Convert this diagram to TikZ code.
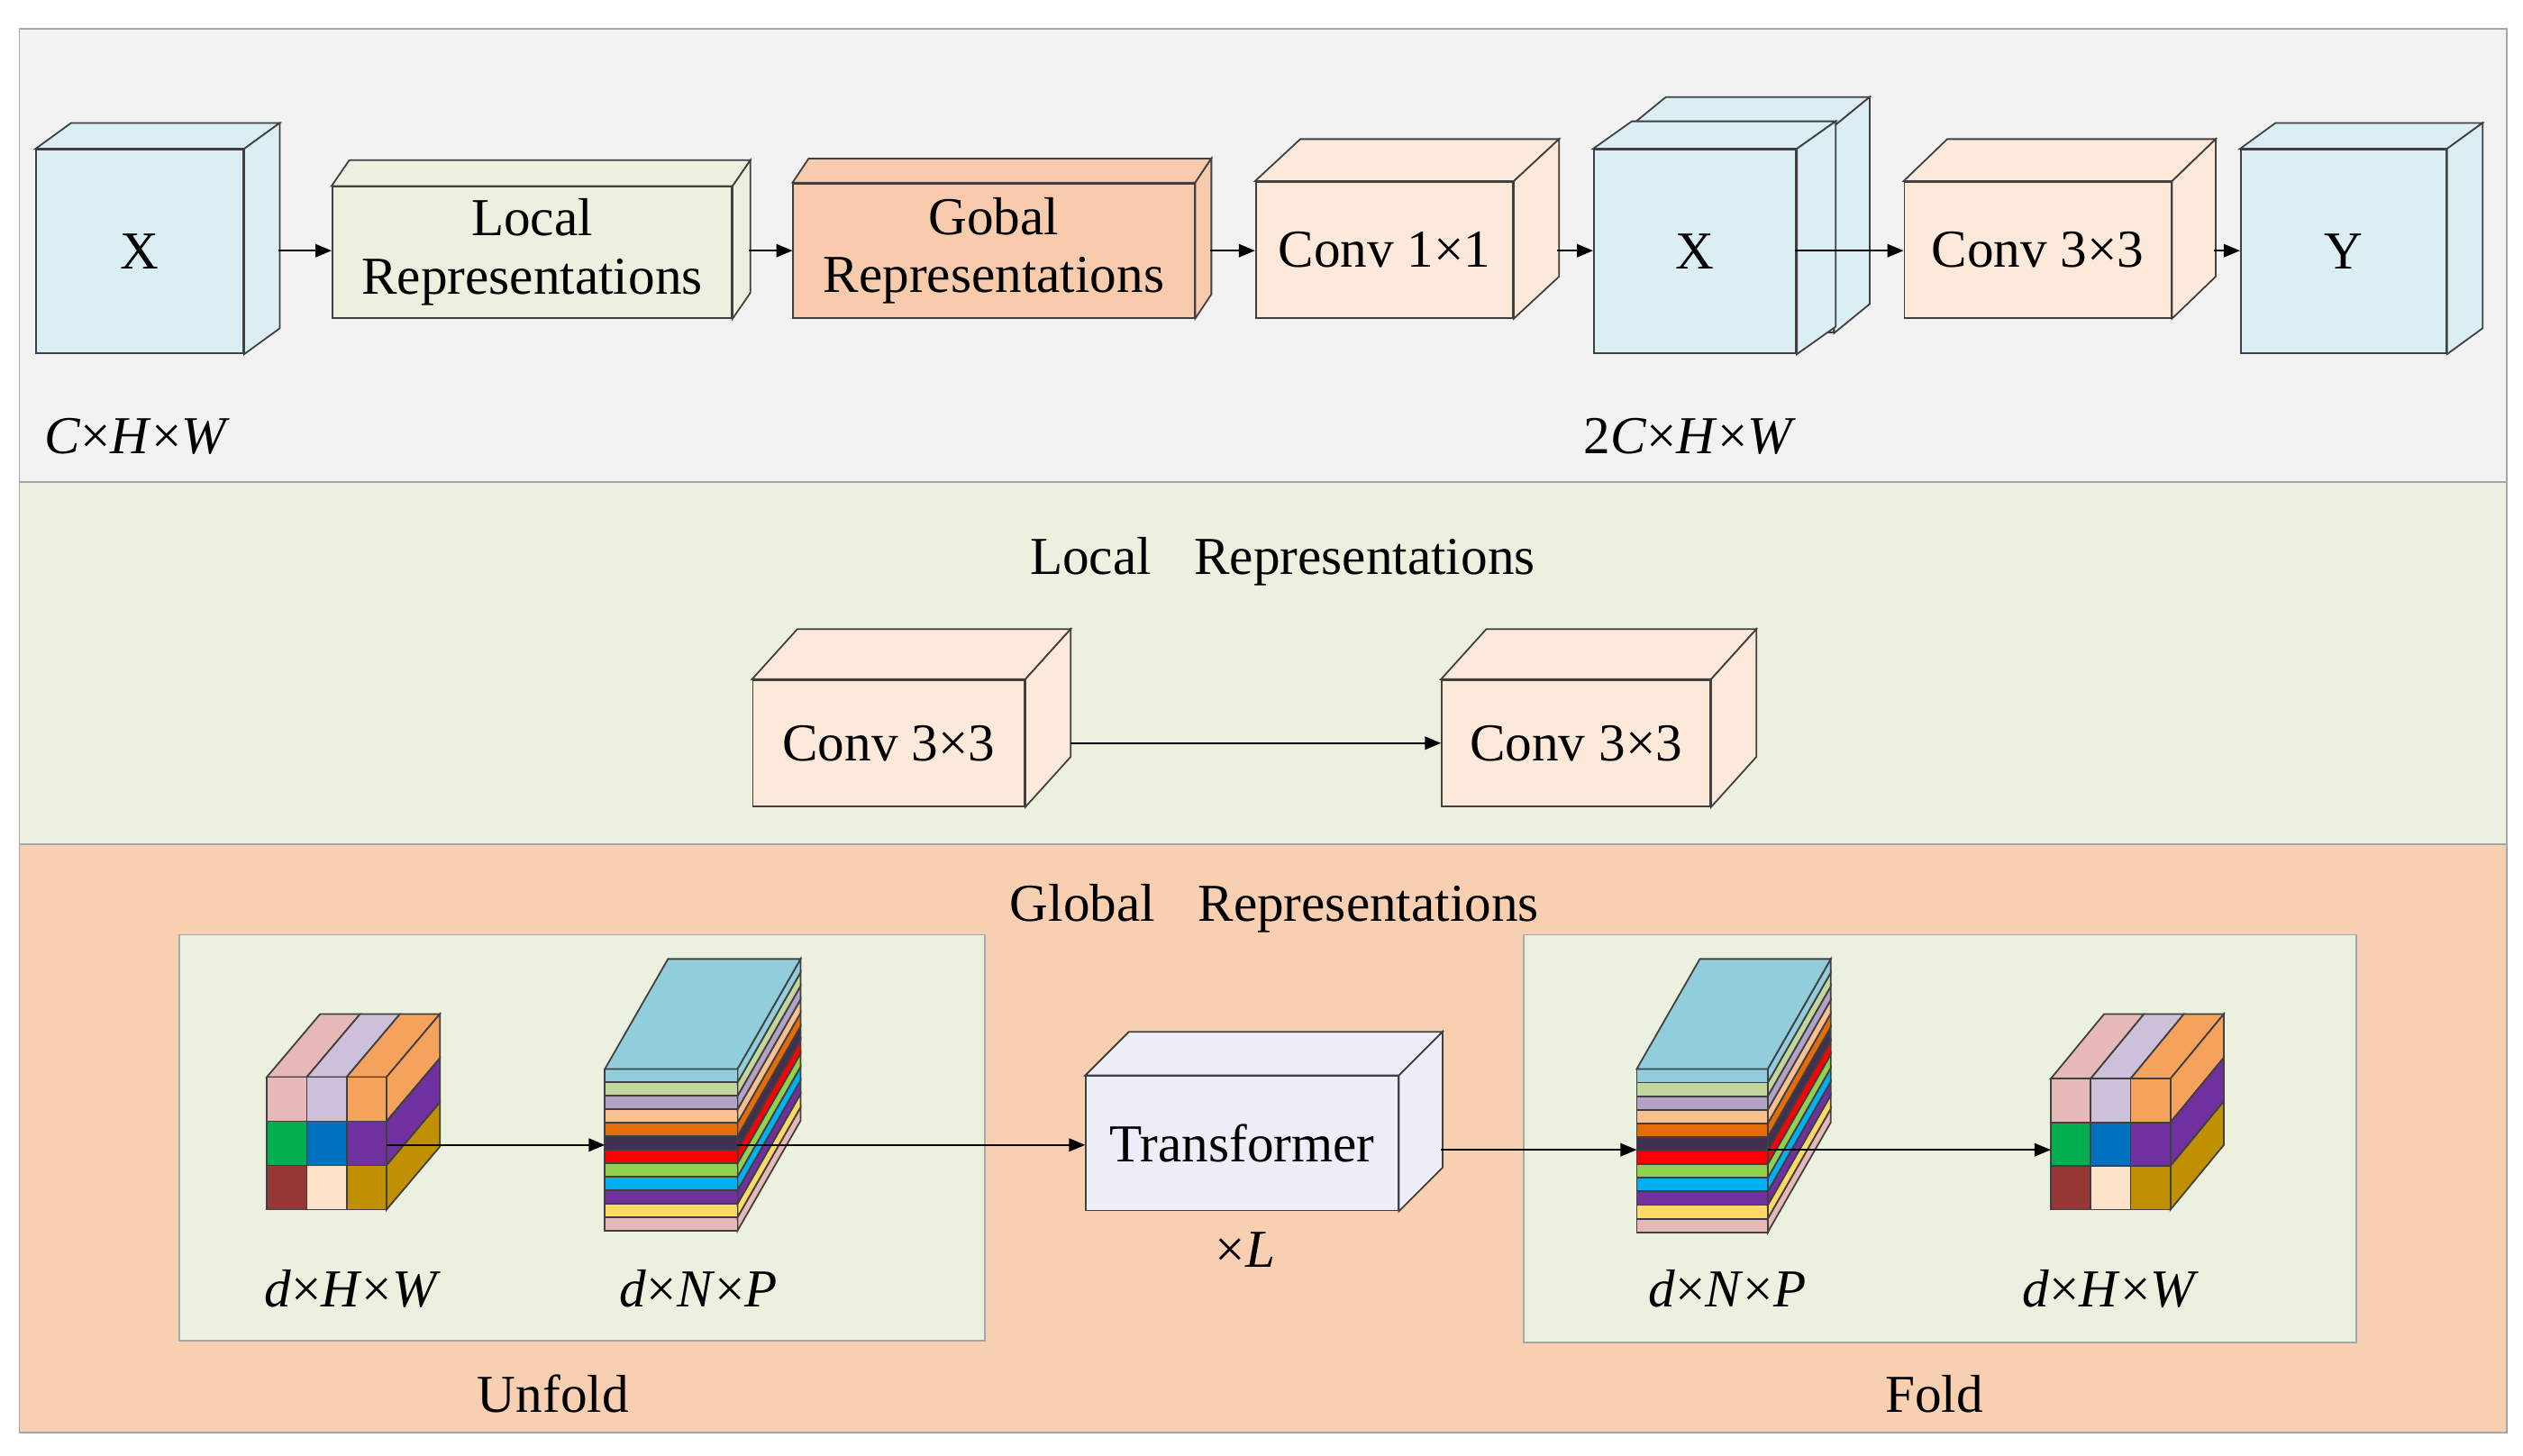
\documentclass[tikz,border=0pt]{standalone}
\usepackage{fontspec}
\setmainfont{Liberation Serif}
\usetikzlibrary{arrows.meta}
\definecolor{bgGray}{HTML}{F2F2F3}
\definecolor{bgGreen}{HTML}{EBF1DE}
\definecolor{bgPeach}{HTML}{F9CFB2}
\definecolor{cBlue}{HTML}{DBEEF4}
\definecolor{cLight}{HTML}{FDE9D9}
\definecolor{cOr}{HTML}{F8CBAD}
\definecolor{cLav}{HTML}{EEEEF8}
\definecolor{k1}{HTML}{E6B9B8}\definecolor{k2}{HTML}{CCC0DA}\definecolor{k3}{HTML}{F5A25D}
\definecolor{k4}{HTML}{00B050}\definecolor{k5}{HTML}{0070C0}\definecolor{k6}{HTML}{7030A0}
\definecolor{k7}{HTML}{953735}\definecolor{k8}{HTML}{FDE1C8}\definecolor{k9}{HTML}{C09000}
\definecolor{s1}{HTML}{92CDDC}\definecolor{s2}{HTML}{C3D69B}\definecolor{s3}{HTML}{B3A2C7}
\definecolor{s4}{HTML}{FAC090}\definecolor{s5}{HTML}{E46C0A}\definecolor{s6}{HTML}{403151}
\definecolor{s7}{HTML}{FF0000}\definecolor{s8}{HTML}{92D050}\definecolor{s9}{HTML}{00B0F0}
\definecolor{s10}{HTML}{7030A0}\definecolor{s11}{HTML}{FFD966}\definecolor{s12}{HTML}{E6B9B8}
\tikzset{
  edge/.style={draw=black!75, line width=1pt},
  arr/.style={line width=1.3pt, -{Triangle[length=10pt,width=8pt]}},
  lbl/.style={font=\fontsize{33}{36}\selectfont, inner sep=0pt},
}
% name, x1,y1,x2,y2,dx,dy,fill,text
\newcommand\mycuboid[9]{%
  \node[edge, fill=#8, anchor=north west, inner sep=0pt, minimum width={#4pt-#2pt}, minimum height={#5pt-#3pt}, align=center, font=\fontsize{33}{36}\selectfont] (#1) at (#2,#3) {#9};
  \draw[edge, fill=#8] (#1.north west) -- ++(#6,#7) -- ([shift={(#6,#7)}]#1.north east) -- (#1.north east) -- cycle;
  \draw[edge, fill=#8] (#1.north east) -- ++(#6,#7) -- ([shift={(#6,#7)}]#1.south east) -- (#1.south east) -- cycle;
}
% colored cube: name, x0,y0,w,h,dx,dy
\newcommand\mycolorcube[7]{%
  \node[anchor=north west, inner sep=0pt, minimum width=#4pt, minimum height=#5pt] (#1) at (#2,#3) {};
  \foreach \c [count=\i from 0] in {k1,k2,k3}
    \draw[edge, fill=\c] ({#2+\i*#4/3},#3) -- ++(#6,#7) -- ++({#4/3},0) -- ({#2+(\i+1)*#4/3},#3) -- cycle;
  \foreach \c [count=\j from 0] in {k3,k6,k9}
    \draw[edge, fill=\c] ({#2+#4},{#3+\j*#5/3}) -- ++(#6,#7) -- ++(0,{#5/3}) -- ({#2+#4},{#3+(\j+1)*#5/3}) -- cycle;
  \foreach \c [count=\n from 0] in {k1,k2,k3,k4,k5,k6,k7,k8,k9}{
    \pgfmathsetmacro\ci{int(mod(\n,3))}\pgfmathsetmacro\cj{int(\n/3)}
    \draw[edge, fill=\c] ({#2+\ci*#4/3},{#3+\cj*#5/3}) rectangle ++({#4/3},{#5/3});
  }
}
% slab: name, x0,y0,w,h,dx,dy
\newcommand\myslab[7]{%
  \node[anchor=north west, inner sep=0pt, minimum width=#4pt, minimum height=#5pt] (#1) at (#2,#3) {};
  \foreach \c [count=\j from 0] in {s12,s11,s10,s9,s8,s7,s6,s5,s4,s3,s2,s1}{
    \pgfmathsetmacro\yy{#3+(11-\j)*#5/12}
    \draw[edge, fill=\c] ({#2+#4},\yy) -- ++(#6,#7) -- ++(0,{#5/12}) -- ({#2+#4},{\yy+#5/12}) -- cycle;
    \draw[edge, fill=\c] (#2,\yy) rectangle ++(#4,{#5/12});
  }
  \draw[edge, fill=s1] (#2,#3) -- ++(#6,#7) -- ++(#4,0) -- ({#2+#4},#3) -- cycle;
}
\begin{document}
\begin{tikzpicture}[x=1pt,y=-1pt]
\useasboundingbox (0,0) rectangle (1560,900);
% bands
\fill[bgGray] (12,18) rectangle (1550,298);
\fill[bgGreen] (12,298) rectangle (1550,522);
\fill[bgPeach] (12,522) rectangle (1550,886);
\draw[black!35, line width=1pt] (12,298) -- (1550,298) (12,522) -- (1550,522);
\draw[black!35, line width=1pt] (12,18) rectangle (1550,886);
% top row
\mycuboid{x1}{22}{92}{150}{218}{22}{-16}{cBlue}{X}
\mycuboid{loc}{205}{115}{452}{196}{11}{-16}{bgGreen}{Local\\[0pt]Representations}
\mycuboid{glo}{490}{113}{738}{196}{10}{-15}{cOr}{Gobal\\[0pt]Representations}
\mycuboid{c11}{776}{112}{935}{196}{28}{-26}{cLight}{Conv 1×1}
\mycuboid{x2b}{1008}{78}{1133}{205}{22}{-18}{cBlue}{}
\mycuboid{x2}{985}{92}{1110}{218}{24}{-17}{cBlue}{X}
\mycuboid{c33}{1177}{112}{1342}{196}{27}{-26}{cLight}{Conv 3×3}
\mycuboid{y}{1385}{92}{1512}{218}{22}{-16}{cBlue}{Y}
\coordinate (t1) at (172,155);
\coordinate (t2) at (463,155);
\coordinate (t3) at (748,155);
\coordinate (t4) at (963,155);
\coordinate (t5) at (1110,155);
\coordinate (t6) at (1369,155);
\draw[arr] (t1) -- (t1 -| loc.west);
\draw[arr] (t2) -- (t2 -| glo.west);
\draw[arr] (t3) -- (t3 -| c11.west);
\draw[arr] (t4) -- (t4 -| x2.west);
\draw[arr] (t5) -- (t5 -| c33.west);
\draw[arr] (t6) -- (t6 -| y.west);
\node[lbl] (d1) at (85,270) {\textit{C}×\textit{H}×\textit{W}};
\node[lbl] (d2) at (1045,270) {2\textit{C}×\textit{H}×\textit{W}};
% local band
\node[lbl] (tl) at (793,347) {Local\hspace{0.8em}Representations};
\mycuboid{la}{465}{420}{633}{498}{28}{-31}{cLight}{Conv 3×3}
\mycuboid{lb}{891}{420}{1057}{498}{28}{-31}{cLight}{Conv 3×3}
\draw[arr] ([xshift=28pt]la.east) -- (lb.west);
% global band
\node[lbl] (tg) at (788,562) {Global\hspace{0.8em}Representations};
\draw[black!35, fill=bgGreen, line width=1pt] (111,578) rectangle (609,829);
\draw[black!35, fill=bgGreen, line width=1pt] (942,578) rectangle (1457,830);
\mycolorcube{cu1}{165}{666}{74}{82}{33}{-39}
\myslab{sl1}{374}{661}{82}{100}{39}{-68}
\myslab{sl2}{1012}{661}{81}{101}{39}{-68}
\mycolorcube{cu2}{1268}{667}{74}{81}{33}{-40}
\mycuboid{tr}{671}{665}{864}{748}{27}{-27}{cLav}{Transformer}
\coordinate (a1) at (239,708);
\coordinate (a2) at (456,708);
\coordinate (a3) at (891,711);
\coordinate (a4) at (1093,711);
\draw[arr] (a1) -- (a1 -| sl1.west);
\draw[arr] (a2) -- (a2 -| tr.west);
\draw[arr] (a3) -- (a3 -| sl2.west);
\draw[arr] (a4) -- (a4 -| cu2.west);
\node[lbl] (l1) at (218,797) {\textit{d}×\textit{H}×\textit{W}};
\node[lbl] (l2) at (432,797) {\textit{d}×\textit{N}×\textit{P}};
\node[lbl] (l3) at (1068,797) {\textit{d}×\textit{N}×\textit{P}};
\node[lbl] (l4) at (1305,797) {\textit{d}×\textit{H}×\textit{W}};
\node[lbl] (lL) at (770,773) {×\textit{L}};
\node[lbl] (uf) at (342,862) {Unfold};
\node[lbl] (fo) at (1196,862) {Fold};
\end{tikzpicture}
\end{document}
